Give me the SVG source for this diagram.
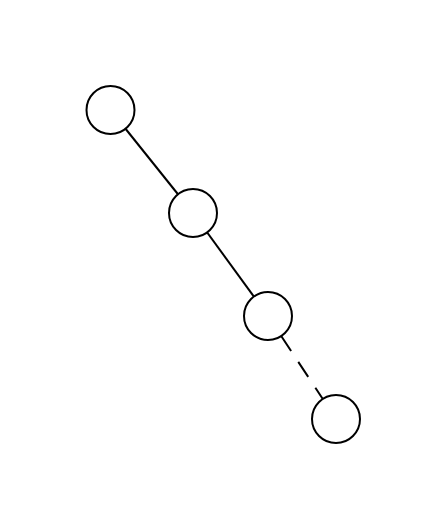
<svg xmlns="http://www.w3.org/2000/svg" width="447" height="527" viewBox="0 0 447 527">
<style>
.n{fill:#fff;stroke:#000;stroke-width:2}
.e{stroke:#000;stroke-width:2;fill:none}
.d{stroke-dasharray:18 13}
</style>
<rect width="447" height="527" fill="#fff"/>
<g id="edges">
<line class="e" x1="110.5" y1="110" x2="193" y2="213"/>
<line class="e" x1="193" y1="213" x2="268" y2="316"/>
<line class="e d" x1="281.2" y1="336" x2="322.8" y2="399"/>
</g>
<g id="n1"><circle class="n" cx="110.5" cy="110" r="24"/></g>
<g id="n2"><circle class="n" cx="193" cy="213" r="24"/></g>
<g id="n3"><circle class="n" cx="268" cy="316" r="24"/></g>
<g id="n4"><circle class="n" cx="336" cy="419" r="24"/></g>
</svg>
